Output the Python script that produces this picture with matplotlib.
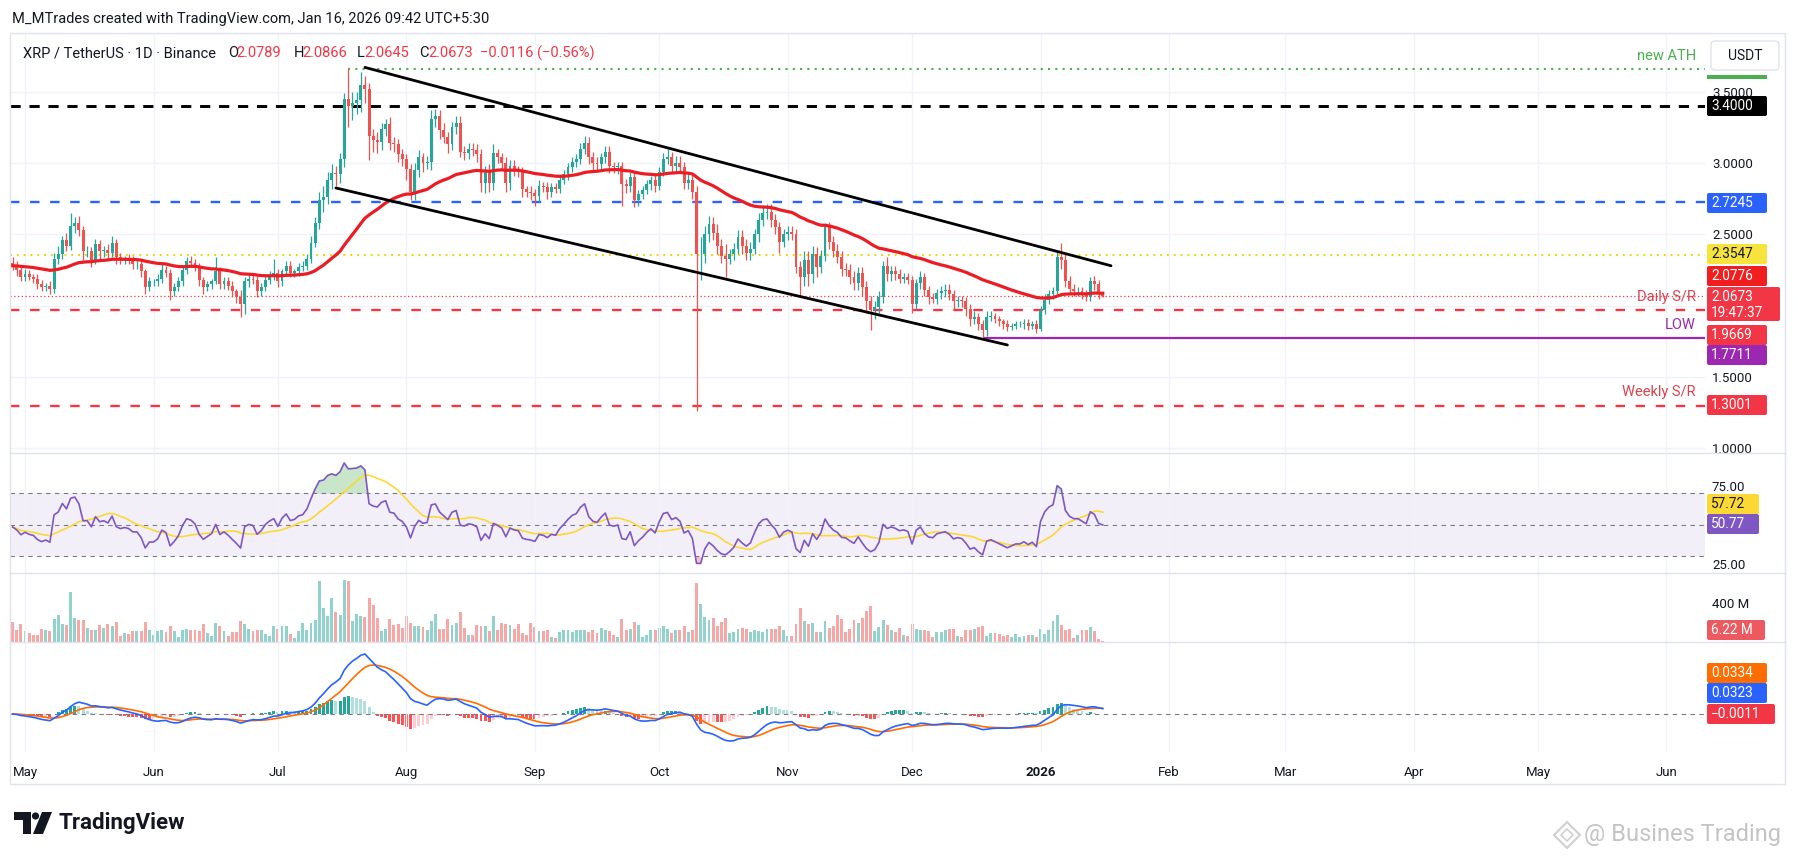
import numpy as np
import pandas as pd
import matplotlib
matplotlib.use('Agg')
import matplotlib.pyplot as plt
from matplotlib.patches import Rectangle, FancyBboxPatch, Polygon, Circle

plt.rcParams['font.family'] = ['Roboto', 'DejaVu Sans']

# ---- data (daily XRP/USDT, Binance) ----
start = pd.Timestamp('2025-04-28')
first_open = 2.30
close = [
    2.28, 2.25, 2.20, 2.22, 2.20, 2.19, 2.15,
    2.13, 2.14, 2.12, 2.33, 2.36, 2.46, 2.42,
    2.56, 2.58, 2.53, 2.38, 2.38, 2.32, 2.43,
    2.38, 2.39, 2.37, 2.44, 2.34, 2.32, 2.33,
    2.32, 2.29, 2.29, 2.24, 2.13, 2.17, 2.17,
    2.19, 2.25, 2.23, 2.10, 2.13, 2.17, 2.25,
    2.31, 2.30, 2.27, 2.18, 2.13, 2.15, 2.17,
    2.24, 2.15, 2.17, 2.14, 2.10, 2.06, 2.01,
    2.17, 2.19, 2.18, 2.10, 2.13, 2.18, 2.21,
    2.23, 2.17, 2.24, 2.28, 2.23, 2.24, 2.27,
    2.28, 2.33, 2.44, 2.58, 2.74, 2.76, 2.88,
    2.93, 2.92, 3.03, 3.45, 3.40, 3.42, 3.44,
    3.55, 3.52, 3.19, 3.16, 3.15, 3.24, 3.27,
    3.14, 3.13, 3.06, 3.03, 2.96, 2.80, 2.95,
    3.04, 3.00, 3.01, 3.31, 3.33, 3.23, 3.18,
    3.13, 3.25, 3.28, 3.08, 3.07, 3.10, 3.09,
    3.06, 2.86, 2.94, 2.86, 3.07, 3.04, 3.00,
    2.86, 2.98, 2.95, 2.94, 2.82, 2.80, 2.79,
    2.77, 2.84, 2.83, 2.80, 2.83, 2.82, 2.88,
    2.92, 2.97, 3.01, 3.03, 3.10, 3.14, 3.04,
    3.00, 2.99, 3.04, 3.08, 2.98, 2.97, 2.98,
    2.85, 2.84, 2.90, 2.74, 2.78, 2.81, 2.85,
    2.88, 2.84, 2.94, 3.03, 3.04, 2.98, 3.00,
    2.97, 2.86, 2.88, 2.80, 2.36, 2.36, 2.50,
    2.57, 2.51, 2.42, 2.35, 2.33, 2.36, 2.40,
    2.48, 2.42, 2.37, 2.40, 2.50, 2.60, 2.65,
    2.66, 2.60, 2.55, 2.45, 2.50, 2.52, 2.50,
    2.27, 2.20, 2.32, 2.22, 2.36, 2.27, 2.35,
    2.55, 2.45, 2.38, 2.34, 2.26, 2.25, 2.20,
    2.16, 2.23, 2.13, 2.03, 1.97, 1.99, 2.06,
    2.28, 2.22, 2.24, 2.22, 2.19, 2.20, 2.18,
    2.01, 2.16, 2.20, 2.11, 2.06, 2.05, 2.09,
    2.10, 2.11, 2.08, 2.03, 2.04, 2.03, 1.98,
    1.91, 1.92, 1.87, 1.83, 1.92, 1.93, 1.91,
    1.89, 1.87, 1.85, 1.86, 1.87, 1.87, 1.88,
    1.86, 1.87, 1.84, 1.97, 2.04, 2.08, 2.10,
    2.34, 2.32, 2.17, 2.12, 2.10, 2.10, 2.08,
    2.06, 2.17, 2.15, 2.0789, 2.0673,
]
# wick lengths beyond the candle body, in cents
upper_wick = [
    4, 3, 3, 4, 3, 2, 3,   3, 2, 3, 4, 6, 3, 5,   9, 4, 5, 3, 4, 3, 4,
    3, 3, 4, 5, 3, 3, 2,   3, 3, 3, 3, 2, 3, 2,   3, 4, 3, 3, 3, 3, 3,
    3, 4, 3, 3, 2, 2, 2,   10, 3, 3, 3, 3, 2, 5,  3, 3, 3, 3, 3, 3, 3,
    10, 3, 2, 3, 3, 2, 3,  3, 3, 5, 4, 6, 8, 6,   6, 5, 4, 4, 21, 8, 6,
    9, 6, 4, 5, 6, 4, 4,   5, 4, 4, 4, 3, 3, 5,   5, 3, 4, 6, 5, 4, 5,
    4, 4, 5, 5, 4, 4, 4,   4, 4, 4, 5, 6, 3, 3,   4, 4, 4, 3, 3, 2, 4,
    3, 4, 3, 4, 3, 3, 3,   3, 3, 3, 3, 4, 5, 4,   4, 4, 3, 4, 4, 3, 3,
    3, 4, 4, 4, 3, 3, 3,   3, 4, 3, 4, 6, 4, 5,   5, 4, 4, 4, 4, 12, 6,
    6, 5, 6, 5, 8, 4, 4,   5, 5, 5, 5, 4, 5, 4,   5, 5, 4, 4, 4, 4, 4,
    4, 4, 6, 6, 6, 5, 4,   3, 4, 4, 5, 4, 4, 4,   4, 4, 4, 4, 4, 4, 4,
    3, 6, 4, 4, 4, 3, 3,   3, 3, 4, 3, 3, 3, 3,   4, 4, 4, 3, 3, 3, 3,
    3, 4, 3, 3, 4, 3, 2,   2, 2, 3, 2, 2, 2, 3,   3, 2, 3, 3, 4, 3, 3,
    4, 10, 5, 4, 3, 3, 3,  3, 3, 4, 3, 0.77,
]
lower_wick = [
    3, 4, 3, 3, 2, 3, 3,   3, 3, 4, 3, 4, 3, 4,   3, 5, 4, 6, 4, 5, 3,
    5, 4, 4, 3, 5, 3, 3,   3, 3, 3, 4, 5, 3, 3,   3, 3, 3, 6, 3, 3, 3,
    3, 3, 3, 4, 5, 3, 3,   2, 3, 3, 3, 4, 4, 9,   7, 4, 3, 4, 3, 3, 3,
    3, 4, 3, 3, 3, 3, 3,   3, 3, 3, 3, 4, 8, 5,   6, 8, 6, 6, 15, 10, 8,
    8, 10, 17, 8, 8, 6, 5, 5, 5, 5, 5, 8, 6, 6,   5, 6, 4, 6, 6, 6, 4,
    6, 4, 5, 4, 5, 4, 4,   5, 6, 7, 6, 5, 4, 4,   6, 5, 4, 4, 6, 4, 5,
    7, 4, 3, 5, 4, 3, 3,   3, 4, 3, 4, 4, 4, 5,   5, 4, 4, 4, 5, 4, 5,
    15, 5, 4, 5, 4, 3, 3,  4, 4, 3, 3, 4, 5, 4,   4, 4, 4, 5, 110, 18, 6,
    5, 5, 6, 5, 13, 4, 4,  4, 6, 5, 5, 4, 5, 4,   4, 5, 5, 8, 4, 4, 4,
    4, 13, 6, 8, 6, 7, 4,  4, 5, 4, 4, 5, 4, 5,   5, 5, 6, 8, 14, 6, 4,
    4, 5, 5, 4, 3, 3, 3,   6, 3, 4, 4, 5, 3, 4,   4, 4, 4, 5, 4, 4, 5,
    5, 4, 4, 6, 4, 3, 3,   3, 3, 3, 2, 2, 2, 3,   3, 2, 3, 2, 3, 3, 3,
    2, 6, 4, 4, 3, 3, 3,   3, 3, 4, 3, 0.28,
]
volume_m = [
    209, 119, 184, 112, 94, 72, 76,    137, 119, 112, 234, 281, 184, 173,
    515, 245, 227, 227, 148, 119, 119, 173, 148, 184, 162, 205, 65, 94,
    83, 112, 112, 112, 205, 119, 76,   112, 119, 101, 162, 112, 54, 126,
    137, 126, 126, 112, 180, 90, 65,   198, 162, 112, 65, 101, 101, 220,
    184, 137, 112, 126, 126, 83, 65,   162, 137, 162, 162, 83, 40, 112,
    191, 119, 191, 227, 623, 353, 270, 450, 310, 281, 641, 623, 220, 292,
    270, 256, 450, 378, 245, 112, 137, 234, 173, 184, 148, 270, 191, 162,
    162, 155, 126, 220, 292, 137, 137, 234, 173, 198, 310, 148, 76, 76,
    173, 162, 162, 112, 270, 119, 198, 184, 173, 137, 184, 90, 76, 191,
    155, 112, 112, 126, 54, 40,
    101, 126, 126, 101, 126, 126, 119, 101, 126, 90, 148, 126, 112, 76,
    47, 234, 119, 137, 209, 173, 54,   76, 126, 119, 148, 162, 137, 90,
    119, 126, 162, 101, 119, 605, 389, 256, 227, 245, 162, 209, 245, 90,
    101, 137, 148, 137, 101, 126, 112, 101, 137, 137, 137, 162, 126, 65,
    65, 184, 353, 220, 184, 198, 101,  101, 220, 148, 162, 281, 234, 101,
    137, 227, 198, 245, 317, 371, 112, 155, 227, 173, 119, 101, 148, 76,
    65, 184, 137, 126, 119, 112, 54,   101, 101, 126, 137, 137, 65, 47,
    119, 126, 137, 155, 162, 65, 90,   90, 83, 65, 76, 47, 83, 47,
    65, 76, 76, 54, 137, 83, 126,      220, 281, 173, 119, 137, 40, 76,
    119, 126, 155, 112, 29, 6.22,
]

# drawn levels and trend lines
ath_price, ath_from = 3.66, '2025-07-18'
level_prices = [3.40, 2.7245, 2.3547, 1.9669, 1.3001]
level_colors = ['#000000', '#2962ff', '#f2d40c', '#f23645', '#f23645']
level_styles = [(0, (3.5, 3)), (0, (4, 4.5)), (0, (1, 2.5)), (0, (4, 4.5)), (0, (4, 4.5))]
level_widths = [2.1, 1.7, 1.4, 1.7, 1.7]
low_price, low_from = 1.7711, '2025-12-18'
upper_channel = [('2025-07-22', 3.67), ('2026-01-18', 2.28)]
lower_channel = [('2025-07-15', 2.825), ('2025-12-24', 1.725)]

# last values shown on the scale
ema_last, rsi_last, rsi_ma_last = 2.0776, 50.77, 57.72
macd_last, signal_last, hist_last = 0.0323, 0.0334, -0.0011

# ---- derived series ----
c = np.array(close)
o = np.r_[first_open, c[:-1]]
hi = np.maximum(o, c) + np.array(upper_wick) / 100
lo = np.minimum(o, c) - np.array(lower_wick) / 100
vol = np.array(volume_m)
n = len(c)
idx = np.arange(n)
s = pd.Series(c)
ema50 = s.ewm(span=50, adjust=False).mean()

# Wilder RSI(14), seeded with an even average move so it starts near 50
ag, al = 0.03, 0.03
rsi = []
for dlt in np.diff(np.r_[first_open, c]):
    ag = (ag * 13 + max(dlt, 0)) / 14
    al = (al * 13 + max(-dlt, 0)) / 14
    rsi.append(100 - 100 / (1 + ag / al))
rsi = np.array(rsi)
rsi_ma = pd.Series(rsi).rolling(14, min_periods=1).mean()
macd = s.ewm(span=12, adjust=False).mean() - s.ewm(span=26, adjust=False).mean()
signal = macd.ewm(span=9, adjust=False).mean()
hist = (macd - signal).values


def day(dstr):
    return (pd.Timestamp(dstr) - start).days


UP, DN = '#26a69a', '#ef5350'
up = c >= o
cols = np.where(up, UP, DN)

W, H = 1799, 860
fig = plt.figure(figsize=(W / 100, H / 100), dpi=100)
fig.patch.set_facecolor('white')

# pixel layout: x = 12.6 + 4.145 * day_index
XL = ((10 - 12.6) / 4.145, (1705 - 12.6) / 4.145)
months = pd.date_range('2025-05-01', '2026-06-01', freq='MS')
mpos = [(m - start).days for m in months]
mlab = ['2026' if (m.month == 1) else m.strftime('%b') for m in months]


def pane(y0, y1):
    ax = fig.add_axes([10 / W, 1 - y1 / H, (1705 - 10) / W, (y1 - y0) / H])
    ax.set_xlim(XL)
    for sp in ax.spines.values():
        sp.set_visible(False)
    ax.set_facecolor('none')
    ax.set_xticks(mpos)
    ax.set_xticklabels([])
    ax.grid(axis='x', color='#f0f3fa', lw=1)
    ax.yaxis.tick_right()
    ax.tick_params(length=0, labelsize=9.5, colors='#131722', pad=5)
    return ax


# main price pane
ax = pane(33, 453)
ax.set_ylim(0.968, 3.911)
ticks = [1.0, 1.5, 2.0, 2.5, 3.0, 3.5]
ax.set_yticks(ticks)
# 2.0000 sits under the price tags, as on the reference
ax.set_yticklabels(['' if t == 2.0 else f'{t:.4f}' for t in ticks])
ax.grid(axis='y', color='#f0f3fa', lw=1)
ax.vlines(idx, lo, hi, colors=cols, lw=0.9, zorder=3)
ax.bar(idx, np.maximum(np.abs(c - o), 0.004), bottom=np.minimum(o, c), width=0.7,
       color=cols, zorder=4)
ax.plot(idx, ema50, color='#ec1c24', lw=2.3, zorder=5)
for p, col, ls, lw in zip(level_prices, level_colors, level_styles, level_widths):
    ax.axhline(p, color=col, ls=ls, lw=lw, zorder=2)
ax.axhline(c[-1], color='#f23645', ls=(0, (1, 2)), lw=0.9, zorder=2)
ax.hlines(ath_price, day(ath_from), XL[1], color='#4caf50', ls=(0, (1, 2.5)), lw=1.5, zorder=2)
ax.hlines(low_price, day(low_from), XL[1], color='#9c27b0', lw=1.6, zorder=2)
for (d0, p0), (d1, p1) in [upper_channel, lower_channel]:
    ax.plot([day(d0), day(d1)], [p0, p1], color='black', lw=2, zorder=6,
            solid_capstyle='round')

# RSI pane
ar = pane(453, 573)
ar.set_ylim(19.5, 95.7)
ar.set_yticks([25, 75])
ar.set_yticklabels(['25.00', '75.00'])
ar.axhspan(30, 70, color='#7e57c2', alpha=0.09, lw=0)
for lvl in (70, 50, 30):
    ar.axhline(lvl, color='#787b86', ls=(0, (4, 4)), lw=0.8)
ar.fill_between(idx, 70, rsi, where=rsi >= 70, interpolate=True, color='#4caf50', alpha=0.3, lw=0)
ar.fill_between(idx, 30, rsi, where=rsi <= 30, interpolate=True, color='#f23645', alpha=0.3, lw=0)
ar.plot(idx, rsi_ma, color='#fdd835', lw=1.2)
ar.plot(idx, rsi, color='#7e57c2', lw=1.2)

# volume pane
av = pane(573, 642)
av.set_ylim(0, 708)
av.set_yticks([400])
av.set_yticklabels(['400 M'])
av.bar(idx, vol, width=0.7, color=cols, alpha=0.5, lw=0)

# MACD pane
am = pane(642, 752)
sc = macd.max() / 60
am.set_ylim(-38 * sc, 72 * sc)
am.set_yticks([])
prev = np.r_[hist[0], hist[:-1]]
hcols = np.where(hist >= 0, np.where(hist > prev, '#26a69a', '#b2dfdb'),
                 np.where(hist > prev, '#ffcdd2', '#ff5252'))
am.bar(idx, hist, width=0.7, color=hcols, lw=0)
am.axhline(0, color='#787b86', ls=(0, (4, 4)), lw=0.8)
am.plot(idx, signal, color='#ff6d00', lw=1.2)
am.plot(idx, macd, color='#2962ff', lw=1.2)
am.set_xticklabels(mlab)
am.tick_params(axis='x', pad=10)
for t in am.get_xticklabels():
    if t.get_text() == '2026':
        t.set_fontweight('bold')

# ---- overlay in pixel coordinates ----
ov = fig.add_axes([0, 0, 1, 1], zorder=10)
ov.set_xlim(0, W)
ov.set_ylim(H, 0)
ov.axis('off')

ov.add_patch(Rectangle((10, 33), 1775, 751, fill=False, ec='#e0e3eb', lw=1))
for y in (453, 573, 642):
    ov.plot([10, 1785], [y, y], color='#e0e3eb', lw=1)

ov.text(12, 19, 'M_MTrades created with TradingView.com, Jan 16, 2026 09:42 UTC+5:30',
        fontsize=10.5, color='#131722', va='center')
chg = c[-1] - o[-1]
legend = [('XRP / TetherUS · 1D · Binance', 23, '#131722'),
          ('O', 228, '#131722'), (f'{o[-1]:.4f}', 236, '#f23645'),
          ('H', 294, '#131722'), (f'{hi[-1]:.4f}', 302, '#f23645'),
          ('L', 357, '#131722'), (f'{lo[-1]:.4f}', 364, '#f23645'),
          ('C', 419, '#131722'), (f'{c[-1]:.4f}', 428, '#f23645'),
          (f'{chg:.4f} ({chg / o[-1] * 100:.2f}%)'.replace('-', '−'), 480, '#f23645')]
for txt, x, col in legend:
    ov.text(x, 53, txt, fontsize=10.5, color=col, va='center')


def tag(y, txt, bg, fg='white', w=60, h=20):
    ov.add_patch(FancyBboxPatch((1707, y - h / 2), w, h, boxstyle='round,pad=0,rounding_size=2',
                                fc=bg, ec='none'))
    ov.text(1711, y, txt, color=fg, fontsize=9.8, va='center', ha='left')


# USDT button and ATH marker
ov.add_patch(FancyBboxPatch((1711, 41), 68, 29, boxstyle='round,pad=0,rounding_size=4',
                            fc='white', ec='#e0e3eb', lw=1))
ov.text(1745, 55.5, 'USDT', fontsize=10, color='#131722', ha='center', va='center')
ov.add_patch(Rectangle((1707, 75), 60, 4, fc='#4caf50', ec='none'))
ov.text(1696, 56, 'new ATH', fontsize=10.5, color='#4caf50', ha='right', va='center')
ov.text(1696, 297, 'Daily S/R', fontsize=10.5, color='#d9434f', ha='right', va='center')
ov.text(1696, 325, 'LOW', fontsize=10.5, color='#9c27b0', ha='right', va='center')
ov.text(1696, 392, 'Weekly S/R', fontsize=10.5, color='#d9434f', ha='right', va='center')

tag(106, f'{level_prices[0]:.4f}', '#000000')
tag(203, f'{level_prices[1]:.4f}', '#2962ff')
tag(254, f'{level_prices[2]:.4f}', '#f7e33c', '#131722')
tag(276, f'{ema_last:.4f}', '#f01e1e')
ov.add_patch(FancyBboxPatch((1707, 287), 73, 34, boxstyle='round,pad=0,rounding_size=2',
                            fc='#f23645', ec='none'))
ov.text(1711, 297, f'{c[-1]:.4f}', color='white', fontsize=9.8, va='center')
ov.text(1711, 313, '19:47:37', color='white', fontsize=9.8, va='center')
tag(335, f'{level_prices[3]:.4f}', '#f23645')
tag(355, f'{low_price:.4f}', '#9c27b0')
tag(405, f'{level_prices[4]:.4f}', '#f23645')

tag(504, f'{rsi_ma_last:.2f}', '#fdd835', '#131722', w=52)
tag(524, f'{rsi_last:.2f}', '#7e57c2', w=52)
tag(630, f'{vol[-1]:.2f} M', '#ec5a5f', w=58)
tag(673, f'{signal_last:.4f}', '#ff6d00')
tag(693, f'{macd_last:.4f}', '#2962ff')
tag(714, f'{hist_last:.4f}'.replace('-', '−'), '#f23645', w=68)

# TradingView logo
ov.add_patch(Polygon([(14, 812), (31, 812), (31, 834), (23, 834), (23, 820), (14, 820)],
                     fc='#131722', ec='none'))
ov.add_patch(Circle((35.5, 816), 3.6, fc='#131722', ec='none'))
ov.add_patch(Polygon([(42, 812), (52, 812), (43, 834), (33, 834)], fc='#131722', ec='none'))
ov.text(59, 823, 'TradingView', fontsize=16, fontweight='bold', color='#131722', va='center')

# watermark
ov.add_patch(Polygon([(1567, 822), (1580, 835), (1567, 848), (1554, 835)], fill=False,
                     ec='#d0d0d0', lw=1.5))
ov.add_patch(Polygon([(1567, 829), (1573, 835), (1567, 841), (1561, 835)], fill=False,
                     ec='#d0d0d0', lw=1.2))
ov.text(1584, 835, '@ Busines Trading', fontsize=17, color='#c4c4c4', va='center')

fig.savefig('out.png', dpi=100, facecolor='white')
